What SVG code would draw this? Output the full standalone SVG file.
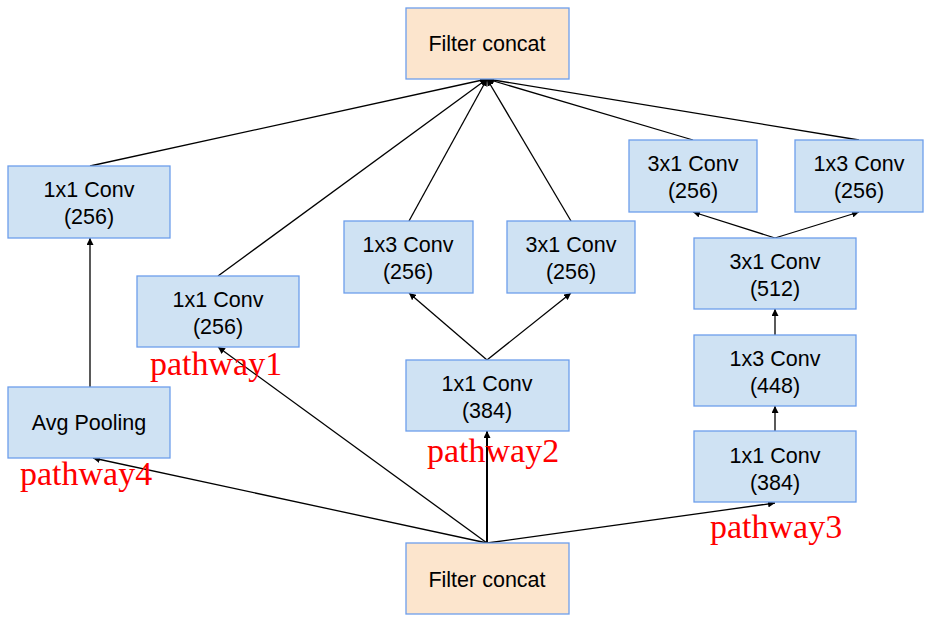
<svg xmlns="http://www.w3.org/2000/svg" width="934" height="626" viewBox="0 0 934 626">
<style>
.n{fill:#cfe2f3;stroke:#6d9eeb;stroke-width:1.3}
.c{fill:#fce5cd;stroke:#6d9eeb;stroke-width:1.3}
.t{font-family:"Liberation Sans",Arial,sans-serif;font-size:21.5px;fill:#000;text-anchor:middle}
.p{font-family:"Liberation Serif","Times New Roman",serif;font-size:34px;fill:#ff0000}
.e{stroke:#000;stroke-width:1.3;fill:none;marker-end:url(#a)}
</style>
<defs><marker id="a" viewBox="0 0 10 10" refX="10" refY="5" markerWidth="7" markerHeight="7" orient="auto" markerUnits="userSpaceOnUse"><path d="M0,0L10,5L0,10z" fill="#000"/></marker></defs>
<rect width="934" height="626" fill="#fff"/>
<g id="edges">
<path class="e" d="M90,166L487,79"/>
<path class="e" d="M218,276L487,79"/>
<path class="e" d="M409,221L487,79"/>
<path class="e" d="M571,221L487,79"/>
<path class="e" d="M693,140L487,79"/>
<path class="e" d="M859,140L487,79"/>
<path class="e" d="M487,543L93,458"/>
<path class="e" d="M487,543L218,347"/>
<path class="e" d="M487,543L487,431" style="stroke-width:2"/>
<path class="e" d="M487,543L775,503"/>
<path class="e" d="M90,387L90,238"/>
<path class="e" d="M487,360L409,293"/>
<path class="e" d="M487,360L571,293"/>
<path class="e" d="M775,238L693,212"/>
<path class="e" d="M775,238L859,212"/>
<path class="e" d="M775,335L775,309"/>
<path class="e" d="M775,431L775,406"/>
</g>
<g id="top"><rect class="c" x="406" y="8" width="163" height="71"/><text class="t" x="487" y="51">Filter concat</text></g>
<g id="bottom"><rect class="c" x="406" y="543" width="163" height="71"/><text class="t" x="487" y="587">Filter concat</text></g>
<g id="c4"><rect class="n" x="8" y="166" width="162" height="72"/><text class="t" x="89" y="197">1x1 Conv</text><text class="t" x="89" y="224">(256)</text></g>
<g id="avg"><rect class="n" x="8" y="387" width="162" height="71"/><text class="t" x="89" y="430">Avg Pooling</text></g>
<g id="c1"><rect class="n" x="137" y="276" width="162" height="71"/><text class="t" x="218" y="307">1x1 Conv</text><text class="t" x="218" y="334">(256)</text></g>
<g id="c13"><rect class="n" x="344" y="221" width="129" height="72"/><text class="t" x="408" y="252">1x3 Conv</text><text class="t" x="408" y="279">(256)</text></g>
<g id="c31"><rect class="n" x="507" y="221" width="128" height="72"/><text class="t" x="571" y="252">3x1 Conv</text><text class="t" x="571" y="279">(256)</text></g>
<g id="c2"><rect class="n" x="406" y="360" width="163" height="71"/><text class="t" x="487" y="391">1x1 Conv</text><text class="t" x="487" y="418">(384)</text></g>
<g id="r31"><rect class="n" x="629" y="140" width="128" height="72"/><text class="t" x="693" y="171">3x1 Conv</text><text class="t" x="693" y="198">(256)</text></g>
<g id="r13"><rect class="n" x="795" y="140" width="128" height="72"/><text class="t" x="859" y="171">1x3 Conv</text><text class="t" x="859" y="198">(256)</text></g>
<g id="r512"><rect class="n" x="694" y="238" width="162" height="71"/><text class="t" x="775" y="269">3x1 Conv</text><text class="t" x="775" y="296">(512)</text></g>
<g id="r448"><rect class="n" x="694" y="335" width="162" height="71"/><text class="t" x="775" y="366">1x3 Conv</text><text class="t" x="775" y="393">(448)</text></g>
<g id="r384"><rect class="n" x="694" y="431" width="162" height="71"/><text class="t" x="775" y="463">1x1 Conv</text><text class="t" x="775" y="490">(384)</text></g>
<text class="p" x="150" y="375">pathway1</text>
<text class="p" x="427" y="462">pathway2</text>
<text class="p" x="710" y="538">pathway3</text>
<text class="p" x="20" y="485">pathway4</text>
</svg>
